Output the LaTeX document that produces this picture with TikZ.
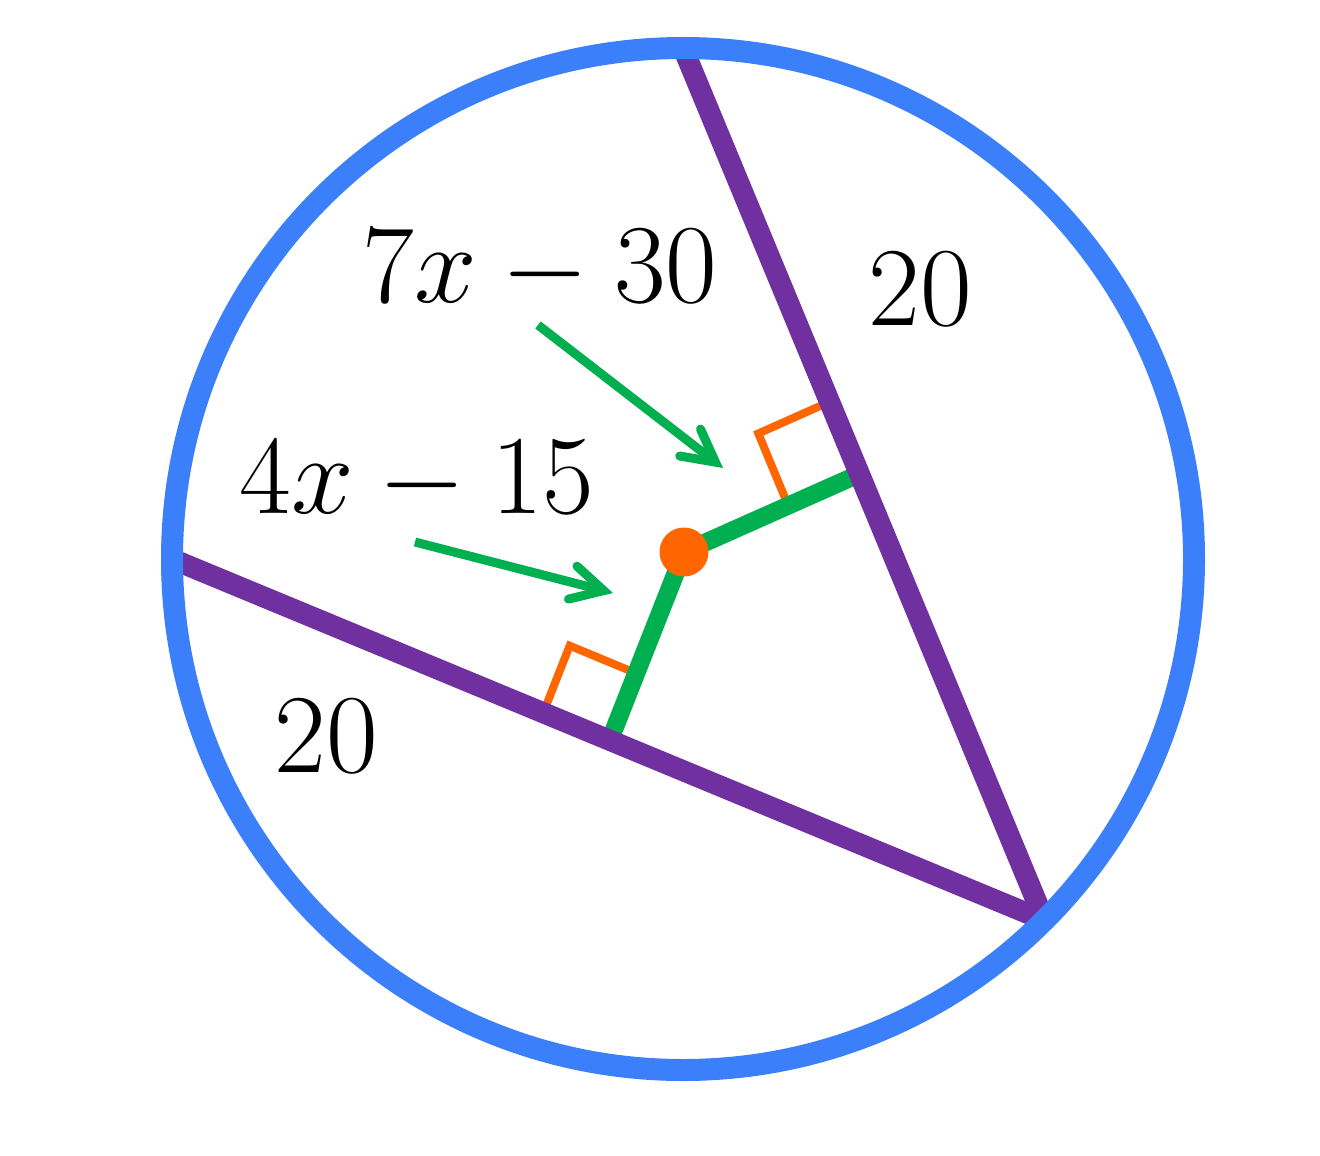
\documentclass[tikz,border=0pt]{standalone}
\usetikzlibrary{arrows.meta}
\definecolor{ringblue}{RGB}{59,128,250}
\definecolor{chordpurple}{RGB}{112,48,160}
\definecolor{distgreen}{RGB}{0,176,80}
\definecolor{markorange}{RGB}{255,102,0}
\tikzset{
  lbl/.style={font=\Huge, scale=2.26, inner sep=0pt, anchor=base},
  chord/.style={chordpurple, line width=10.5pt},
  dist/.style={distgreen, line width=9pt},
  rightmark/.style={markorange, line width=4pt},
  centerdot/.style={circle, fill=markorange, inner sep=0pt, minimum size=24.5pt},
  pointer/.style={distgreen, line width=4.5pt,
    -{Straight Barb[length=16pt,width=17pt,line cap=round]}},
}
\begin{document}
\begin{tikzpicture}[x=0.5pt,y=-0.5pt]
\useasboundingbox (0,0) rectangle (1320,1155);

%points
\coordinate (O) at (683,559);
\coordinate (A) at (683,48);
\coordinate (B) at (172,559);
\coordinate (P) at (1044.3,920.3);
\coordinate (D) at (684,552);
\coordinate (G1) at (859.5,473.9);
\coordinate (G2) at (609.8,740.3);

%right angle marks
\draw[rightmark] (G1) -- (788.2,505.6) -- (758.3,433.5) -- (829.6,401.8) -- cycle;
\draw[rightmark] (G2) -- (636.2,673.3) -- (569.7,645.7) -- (543.3,712.7) -- cycle;

%distances to the chords
\draw[dist] (D) -- (G1);
\draw[dist] (D) -- (G2);

%chords and circle
\draw[chord] (A) -- (P);
\draw[chord] (B) -- (P);
\draw[ringblue, line width=11pt] (O) circle[radius=511];

\node[centerdot] (dot) at (D) {};

%pointers
\coordinate (p1s) at (538,325);
\coordinate (p1e) at (723,468);
\coordinate (p2s) at (415,542);
\coordinate (p2e) at (613,593);
\draw[pointer] (p1s) -- (p1e);
\draw[pointer] (p2s) -- (p2e);

%labels
\node[lbl] (dist1) at (540,302) {$7x-30$};
\node[lbl] (len1) at (920.5,325) {$20$};
\node[lbl] (dist2) at (417,513) {$4x-15$};
\node[lbl] (len2) at (326.5,772) {$20$};
\end{tikzpicture}
\end{document}
